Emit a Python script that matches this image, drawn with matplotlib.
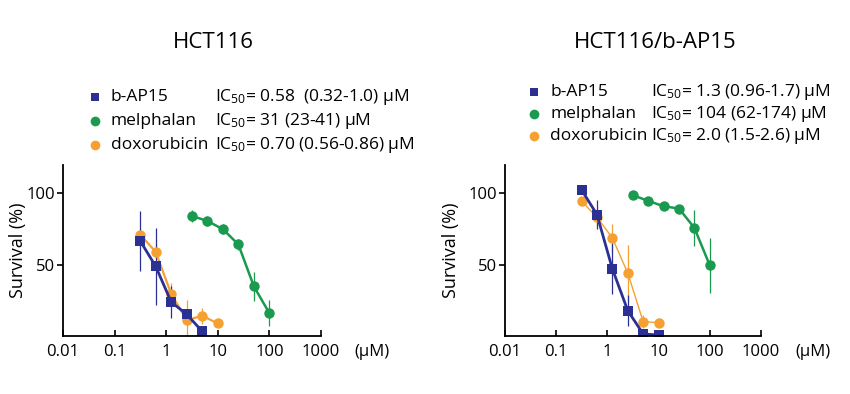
import matplotlib
matplotlib.use("Agg")
import matplotlib.pyplot as plt
import numpy as np

plt.rcParams['font.family'] = ['Open Sans', 'DejaVu Sans']
plt.rcParams['mathtext.fontset'] = 'custom'
plt.rcParams['mathtext.rm'] = 'Open Sans'
plt.rcParams['mathtext.it'] = 'Open Sans'

# ---- data ----
titles = ["HCT116", "HCT116/b-AP15"]
drugs = ["b-AP15", "melphalan", "doxorubicin"]
ic50_text = [
    ["= 0.58  (0.32-1.0) μM", "= 31 (23-41) μM", "= 0.70 (0.56-0.86) μM"],
    ["= 1.3 (0.96-1.7) μM", "= 104 (62-174) μM", "= 2.0 (1.5-2.6) μM"],
]
xticks = [0.01, 0.1, 1, 10, 100, 1000]
xtick_labels = ["0.01", "0.1", "1", "10", "100", "1000"]
yticks = [50, 100]

# left panel (HCT116)
L_bap_x = [0.3125, 0.625, 1.25, 2.5, 5]
L_bap_y = [66.7, 48.8, 23.7, 15.0, 3.0]
L_bap_e = [21, 27, 11, 3, 0]
L_mel_x = [3.125, 6.25, 12.5, 25, 50, 100]
L_mel_y = [84.2, 80.7, 74.9, 64.2, 34.7, 15.8]
L_mel_e = [4.5, 3.5, 3.5, 4, 10, 9]
L_dox_x = [0.3125, 0.625, 1.25, 2.5, 5, 10]
L_dox_y = [71, 59, 29.3, 11, 14, 8.6]
L_dox_e = [4, 5, 8, 14, 5.5, 1.5]

# right panel (HCT116/b-AP15)
R_bap_x = [0.3125, 0.625, 1.25, 2.5, 5, 10]
R_bap_y = [102.6, 85.2, 47, 17.6, 1.2, 0.5]
R_bap_e = [1.5, 10, 18, 11, 1, 1]
R_mel_x = [3.125, 6.25, 12.5, 25, 50, 100]
R_mel_y = [98.8, 94.8, 91.0, 89.4, 75.8, 49.4]
R_mel_e = [1.5, 1.5, 2, 2, 12.7, 19.6]
R_dox_x = [0.3125, 0.625, 1.25, 2.5, 5, 10]
R_dox_y = [94.6, 83.3, 68.7, 44, 9.9, 9.2]
R_dox_e = [3, 6, 9.7, 20, 4.7, 3]

c_bap = "#2b3192"
c_mel = "#1a9a4f"
c_dox = "#f5a030"

fig = plt.figure(figsize=(8.5, 3.94), dpi=100)

panels = [
    dict(rect=[63/850, 58.3/394, 258/850, 170.7/394],
         bap=(L_bap_x, L_bap_y, L_bap_e), mel=(L_mel_x, L_mel_y, L_mel_e),
         dox=(L_dox_x, L_dox_y, L_dox_e), dox_lw=1.6, ylpad=-1,
         title_x=213, leg_mx=95, leg_tx=111, leg_ix=215, leg_y=[97, 121, 145],
         um_x=372),
    dict(rect=[505/850, 58.3/394, 256/850, 170.7/394],
         bap=(R_bap_x, R_bap_y, R_bap_e), mel=(R_mel_x, R_mel_y, R_mel_e),
         dox=(R_dox_x, R_dox_y, R_dox_e), dox_lw=1.0, ylpad=6,
         title_x=655, leg_mx=534, leg_tx=550, leg_ix=651, leg_y=[92, 114, 136],
         um_x=813),
]

for i, p in enumerate(panels):
    ax = fig.add_axes(p["rect"])
    ax.set_xscale("log")
    ax.set_xlim(0.01, 1000)
    ax.set_ylim(0, 120)
    for (x, y, e), c, m, lw, ms in [(p["dox"], c_dox, "o", p["dox_lw"], 7.5),
                                   (p["bap"], c_bap, "s", 2.0, 6.5),
                                   (p["mel"], c_mel, "o", 1.8, 7.5)]:
        ax.errorbar(x, y, yerr=e, color=c, marker=m, markersize=ms, lw=lw,
                    elinewidth=0.9, capsize=3, capthick=0.9, markeredgewidth=0)
    ax.spines[["top", "right"]].set_visible(False)
    ax.spines[["left", "bottom"]].set_linewidth(1.3)
    ax.set_xticks(xticks)
    ax.set_xticklabels(xtick_labels, fontsize=12)
    ax.minorticks_off()
    ax.tick_params(axis="x", direction="in", length=4, width=1.2, pad=6)
    ax.set_yticks(yticks)
    ax.set_yticklabels([str(v) for v in yticks], fontsize=12)
    ax.tick_params(axis="y", direction="out", length=4, width=1.2, pad=2)
    ax.set_ylabel("Survival (%)", fontsize=13, labelpad=p["ylpad"])

    H = 394
    fig.text(p["title_x"]/850, 1 - 43/H, titles[i], fontsize=16,
             ha="center", va="center")
    markers = ["s", "o", "o"]
    colors = [c_bap, c_mel, c_dox]
    for j in range(3):
        yy = 1 - p["leg_y"][j]/H
        fig.lines.append(plt.Line2D([p["leg_mx"]/850], [yy], marker=markers[j],
                                    color=colors[j], markersize=6 if j == 0 else 7,
                                    markeredgewidth=0, transform=fig.transFigure))
        fig.text(p["leg_tx"]/850, yy, drugs[j], fontsize=12.5, ha="left", va="center")
        fig.text(p["leg_ix"]/850, yy, r"IC$_{50}$" + ic50_text[i][j],
                 fontsize=12.5, ha="left", va="center")
    fig.text(p["um_x"]/850, 1 - 352/H, "(μM)", fontsize=12, ha="center", va="center")

fig.savefig("out.png", dpi=100)
